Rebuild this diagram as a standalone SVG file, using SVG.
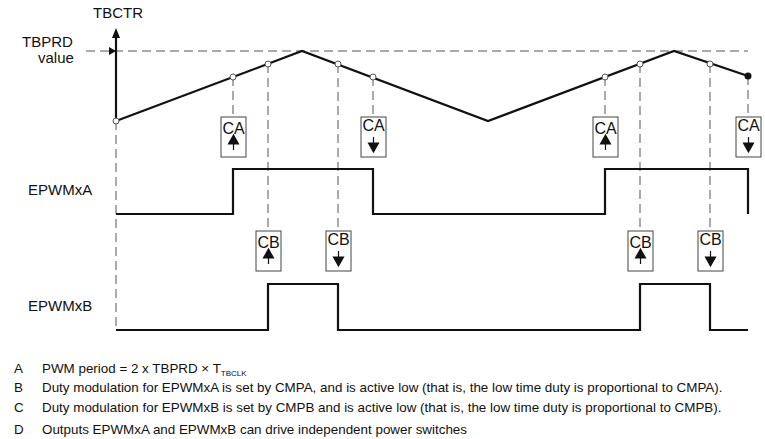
<svg xmlns="http://www.w3.org/2000/svg" width="765" height="439" viewBox="0 0 765 439">
<style>
text{font-family:"Liberation Sans",Arial,sans-serif;fill:#111}
.l{font-size:15px}.t{font-size:16px}.n{font-size:13.4px}
.d{stroke:#555;stroke-width:1;stroke-dasharray:9,5;fill:none}
.w{stroke:#111;stroke-width:2.2;fill:none}
.b{fill:#fff;stroke:#444;stroke-width:1}
.c{fill:#fff;stroke:#555;stroke-width:1}
</style>
<defs>
<path id="up" d="M0,-8L5,1L-5,1Z M0,0V7" fill="#111" stroke="#111" stroke-width="1.2"/>
<path id="dn" d="M0,8L5,-1L-5,-1Z M0,0V-7" fill="#111" stroke="#111" stroke-width="1.2"/>
</defs>
<g id="labels">
<text x="93" y="18" class="l">TBCTR</text>
<text x="22" y="47" class="l">TBPRD</text>
<text x="38" y="63" class="l">value</text>
<text x="28" y="195" class="l">EPWMxA</text>
<text x="28" y="311" class="l">EPWMxB</text>
</g>
<g id="connectors">
<line x1="86" y1="51" x2="748" y2="51" class="d"/>
<line x1="116" y1="121" x2="116" y2="330" class="d"/>
<line x1="233" y1="77" x2="233" y2="117" class="d"/>
<line x1="268" y1="64" x2="268" y2="231" class="d"/>
<line x1="338" y1="64" x2="338" y2="231" class="d"/>
<line x1="373" y1="77" x2="373" y2="117" class="d"/>
<line x1="605" y1="77" x2="605" y2="117" class="d"/>
<line x1="640" y1="64" x2="640" y2="231" class="d"/>
<line x1="710" y1="64" x2="710" y2="231" class="d"/>
<line x1="748" y1="76" x2="748" y2="117" class="d"/>
<line x1="116" y1="121" x2="116" y2="36" stroke="#111" stroke-width="2.2"/>
<polygon points="116,28 120,38 112,38" fill="#111"/>
<polygon points="116,51 109,47 109,55" fill="#111"/>
<polyline points="116,121 302,51 488,121 674,51 748,76" class="w"/>
<polyline points="116,214 233,214 233,169 373,169 373,214 605,214 605,169 748,169 748,214" class="w"/>
<polyline points="116,330 268,330 268,284 338,284 338,330 640,330 640,284 710,284 710,330 748,330" class="w"/>
<circle cx="116" cy="121" r="3" class="c"/>
<circle cx="233" cy="77" r="3" class="c"/>
<circle cx="268" cy="64" r="3" class="c"/>
<circle cx="338" cy="64" r="3" class="c"/>
<circle cx="373" cy="77" r="3" class="c"/>
<circle cx="605" cy="77" r="3" class="c"/>
<circle cx="640" cy="64" r="3" class="c"/>
<circle cx="710" cy="64" r="3" class="c"/>
<circle cx="748" cy="76" r="3.5" fill="#111"/>
</g>
<g id="ca1"><rect x="221" y="117" width="25" height="40" class="b"/><text x="233.5" y="134" class="t" text-anchor="middle">CA</text><use href="#up" x="233.5" y="143"/></g>
<g id="ca2"><rect x="361" y="117" width="25" height="40" class="b"/><text x="373.5" y="131" class="t" text-anchor="middle">CA</text><use href="#dn" x="373.5" y="144"/></g>
<g id="ca3"><rect x="593" y="117" width="25" height="40" class="b"/><text x="605.5" y="134" class="t" text-anchor="middle">CA</text><use href="#up" x="605.5" y="143"/></g>
<g id="ca4"><rect x="736" y="117" width="25" height="40" class="b"/><text x="748.5" y="131" class="t" text-anchor="middle">CA</text><use href="#dn" x="748.5" y="144"/></g>
<g id="cb1"><rect x="256" y="231" width="25" height="40" class="b"/><text x="268.5" y="248" class="t" text-anchor="middle">CB</text><use href="#up" x="268.5" y="257"/></g>
<g id="cb2"><rect x="326" y="231" width="25" height="40" class="b"/><text x="338.5" y="245" class="t" text-anchor="middle">CB</text><use href="#dn" x="338.5" y="258"/></g>
<g id="cb3"><rect x="628" y="231" width="25" height="40" class="b"/><text x="640.5" y="248" class="t" text-anchor="middle">CB</text><use href="#up" x="640.5" y="257"/></g>
<g id="cb4"><rect x="698" y="231" width="25" height="40" class="b"/><text x="710.5" y="245" class="t" text-anchor="middle">CB</text><use href="#dn" x="710.5" y="258"/></g>
<g id="legend">
<text x="14" y="373" class="n">A</text><text x="42" y="373" class="n">PWM period = 2 x TBPRD × T<tspan font-size="8" dy="3">TBCLK</tspan></text>
<text x="14" y="392" class="n">B</text><text x="42" y="392" class="n">Duty modulation for EPWMxA is set by CMPA, and is active low (that is, the low time duty is proportional to CMPA).</text>
<text x="14" y="412" class="n">C</text><text x="42" y="412" class="n">Duty modulation for EPWMxB is set by CMPB and is active low (that is, the low time duty is proportional to CMPB).</text>
<text x="14" y="434" class="n">D</text><text x="42" y="434" class="n">Outputs EPWMxA and EPWMxB can drive independent power switches</text>
</g>
</svg>
